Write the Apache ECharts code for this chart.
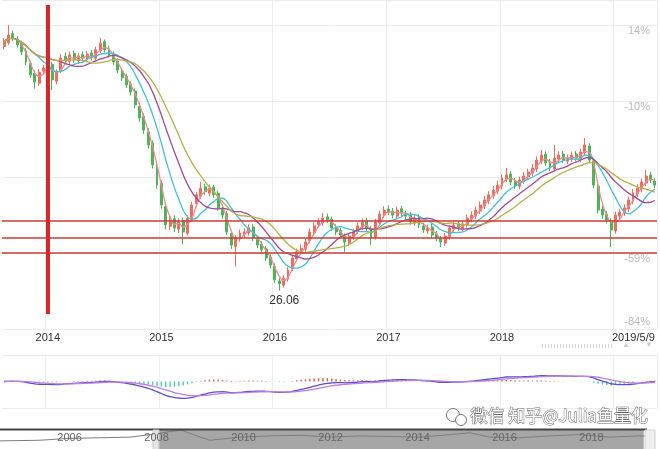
<!DOCTYPE html>
<html>
<head>
<meta charset="utf-8">
<script src="https://cdn.jsdelivr.net/npm/echarts@6/dist/echarts.min.js"></script>
<style>
  html, body { margin: 0; padding: 0; background: #fff; }
  #main { width: 660px; height: 449px; }
</style>
</head>
<body>
<div id="main"></div>
<script>
// 双周K线 (2013/8/22 - 2019/5/9)
const opens = [
  98.5, 99.6, 102.3, 100.6, 99.4, 97.2, 93.5, 90.6, 87.6, 91.2,
  91.8, 93.2, 88.2, 91.3, 95.6, 94.1, 96.4, 94.2, 96.1, 94.8,
  96.6, 95.0, 97.2, 99.9, 97.8, 96.3, 94.2, 91.1, 89.6, 87.4,
  85.3, 80.8, 77.8, 73.2, 69.8, 63.0, 57.9, 51.0, 45.2, 47.4,
  44.3, 46.9, 43.1, 47.2, 51.9, 54.1, 56.9, 55.0, 56.8, 54.9,
  50.2, 48.9, 43.1, 39.2, 41.4, 42.8, 43.2, 45.0, 41.3, 39.9,
  38.5, 36.1, 33.3, 29.0, 27.7, 29.5, 32.6, 35.5, 37.9, 38.4,
  40.9, 43.2, 45.7, 46.2, 48.0, 47.3, 44.9, 43.9, 42.2, 40.2,
  42.1, 43.8, 45.0, 46.8, 44.4, 42.0, 46.2, 48.5, 50.3, 49.7,
  48.2, 50.4, 48.8, 48.5, 46.2, 47.9, 45.3, 43.8, 45.0, 42.9,
  41.4, 40.2, 42.0, 44.4, 45.9, 44.5, 45.6, 47.3, 48.2, 49.7,
  51.2, 52.7, 54.2, 55.6, 57.1, 59.2, 60.7, 58.6, 57.1, 58.6,
  59.8, 61.0, 62.2, 64.5, 66.6, 64.3, 62.2, 65.1, 66.6, 64.5,
  65.1, 66.6, 65.1, 66.9, 69.0, 64.5, 57.1, 50.3, 48.8, 46.7,
  43.8, 48.2, 49.1, 50.3, 52.7, 54.8, 56.2, 58.0, 60.4, 58.6
];
const closes = [
  99.8, 101.9, 101.0, 99.0, 96.9, 93.9, 90.1, 88.0, 90.9, 92.1,
  93.6, 88.6, 90.9, 95.1, 94.5, 96.0, 94.5, 95.7, 95.1, 96.3,
  95.1, 97.5, 99.5, 97.5, 96.0, 93.9, 91.5, 89.2, 87.1, 85.0,
  81.2, 77.3, 73.7, 69.3, 63.4, 57.4, 51.5, 45.6, 47.0, 44.7,
  46.5, 43.5, 47.6, 51.5, 54.5, 56.5, 55.4, 56.5, 54.5, 50.6,
  48.5, 43.5, 39.6, 41.7, 43.2, 43.5, 44.7, 41.7, 39.6, 38.2,
  35.8, 33.7, 29.3, 28.1, 29.8, 32.2, 35.8, 37.6, 38.7, 40.5,
  43.5, 45.3, 46.5, 47.6, 47.0, 44.7, 43.5, 42.6, 40.5, 42.3,
  43.5, 45.3, 46.5, 44.7, 41.7, 46.5, 48.8, 50.0, 49.4, 48.5,
  50.0, 49.1, 48.2, 46.5, 47.6, 45.6, 44.1, 44.7, 42.6, 41.7,
  40.5, 42.3, 44.7, 45.6, 44.7, 45.9, 47.6, 48.5, 50.0, 51.5,
  53.0, 54.5, 55.9, 57.4, 59.5, 60.4, 58.3, 57.4, 58.9, 60.1,
  61.3, 62.5, 64.8, 66.3, 64.0, 62.5, 65.4, 66.3, 64.8, 65.4,
  66.3, 65.4, 67.2, 69.3, 64.8, 57.4, 50.0, 48.5, 47.0, 44.1,
  48.5, 49.4, 50.6, 53.0, 55.1, 56.5, 58.3, 60.1, 58.9, 57.4
];
const lows = [
  97.6, 99.0, 100.1, 98.2, 96.0, 93.0, 89.2, 86.0, 86.9, 90.3,
  90.8, 85.6, 87.3, 90.6, 93.6, 93.3, 93.7, 93.4, 94.2, 94.0,
  94.3, 94.2, 96.6, 96.7, 95.2, 93.0, 90.6, 88.3, 86.2, 84.0,
  80.2, 76.2, 72.6, 68.2, 62.3, 56.3, 50.4, 44.2, 44.0, 43.5,
  43.2, 39.8, 42.4, 46.5, 51.0, 53.3, 54.5, 54.1, 53.6, 49.7,
  47.3, 42.6, 38.5, 33.3, 40.6, 41.8, 42.4, 40.8, 38.7, 37.2,
  34.9, 32.7, 28.4, 26.06, 27.0, 28.8, 31.9, 34.7, 36.9, 37.6,
  40.1, 42.4, 44.8, 45.4, 46.1, 43.8, 42.5, 41.7, 37.6, 39.4,
  41.2, 42.9, 44.1, 43.8, 39.6, 41.2, 45.4, 47.6, 48.5, 47.6,
  47.3, 48.2, 47.2, 45.6, 45.3, 44.7, 43.2, 42.9, 41.7, 40.8,
  39.0, 39.4, 41.2, 43.5, 43.8, 43.6, 44.8, 46.4, 47.3, 48.8,
  50.3, 51.8, 53.3, 54.7, 56.2, 58.3, 57.4, 56.3, 56.2, 57.7,
  58.9, 60.1, 61.3, 63.6, 63.1, 61.5, 61.4, 64.2, 63.9, 63.6,
  64.2, 64.4, 64.2, 66.0, 63.9, 56.4, 49.0, 47.4, 46.0, 39.0,
  43.0, 47.3, 48.2, 49.4, 51.8, 53.9, 55.3, 57.1, 58.0, 56.5
];
const highs = [
  101.0, 104.9, 103.2, 101.5, 100.2, 98.0, 94.3, 91.4, 91.8, 93.0,
  94.6, 93.9, 91.7, 96.2, 96.8, 97.0, 97.3, 96.6, 97.0, 97.2,
  97.5, 98.4, 101.0, 100.6, 98.7, 97.0, 95.0, 92.0, 90.4, 88.2,
  86.1, 81.9, 78.7, 74.3, 70.6, 64.1, 58.8, 52.2, 48.3, 48.5,
  47.6, 47.8, 48.4, 52.4, 55.4, 58.3, 57.8, 57.6, 57.5, 55.6,
  51.1, 49.8, 44.0, 42.6, 44.2, 44.6, 45.8, 45.9, 42.2, 40.7,
  39.3, 36.9, 34.2, 29.9, 30.7, 33.1, 36.7, 38.6, 39.8, 41.5,
  44.5, 46.4, 47.6, 49.1, 48.9, 48.1, 45.8, 44.8, 43.1, 43.2,
  44.5, 46.3, 47.5, 47.7, 45.2, 47.4, 49.8, 51.1, 51.4, 50.6,
  51.0, 51.3, 49.8, 49.4, 48.6, 48.8, 46.2, 45.7, 45.9, 43.8,
  42.3, 43.2, 45.6, 46.6, 46.8, 46.9, 48.6, 49.6, 51.0, 52.6,
  54.1, 55.6, 57.1, 58.6, 60.6, 62.5, 61.6, 59.5, 59.9, 61.2,
  62.3, 63.6, 65.9, 67.8, 67.4, 65.2, 69.3, 67.4, 67.5, 66.5,
  67.3, 67.5, 68.2, 71.4, 69.8, 65.3, 57.9, 51.2, 49.7, 47.5,
  49.5, 50.4, 51.7, 54.0, 56.2, 57.6, 59.4, 61.9, 61.3, 59.5
];

const maPeriods = [3, 8, 13, 18];
const maColors = ['#f08a96', '#45bfd4', '#a24a92', '#b5b04c'];
const supportLevels = [46.75, 41.9, 37.35];
const markIndex = 10;          // 竖线位置
const lowIndex = 63;
const lowText = '26.06';
const yearLabels = ['2014', '2015', '2016', '2017', '2018'];
const lastLabel = '2019/5/9';
const yTickLabels = ['-84%', '-59%', '', '-10%', '14%'];

// 底部导航条
const navYears = [2004.4, 2005.32, 2005.96, 2006.7, 2007.39, 2007.85, 2008.31, 2008.58, 2008.88, 2009.23,
  2009.92, 2010.61, 2011.3, 2011.99, 2012.68, 2013.37, 2014.06, 2014.74, 2015.2, 2015.66,
  2016.35, 2017.04, 2017.73, 2018.42, 2019.11, 2019.46];
const navValues = [13, 14, 17, 18, 19, 23, 28, 30, 22, 14,
  19, 21, 22, 19, 21, 20, 19, 23, 26, 19,
  18, 21, 23, 19, 21, 20];
const navLabelYears = [2006, 2008, 2010, 2012, 2014, 2016, 2018];
const navSelect = [2007.95, 2019.2];

// 日期
const categories = [];
const t0 = Date.UTC(2013, 7, 22);
for (let i = 0; i < closes.length; i++) {
  const d = new Date(t0 + i * 14 * 86400000);
  categories.push(d.getUTCFullYear() + '/' + (d.getUTCMonth() + 1) + '/' + d.getUTCDate());
}
const yearStart = {};
for (let i = 1; i < categories.length; i++) {
  const y0 = categories[i - 1].slice(0, 4), y1 = categories[i].slice(0, 4);
  if (y0 !== y1) yearStart[i] = y1;
}
const lastIdx = categories.length - 1;

const kData = closes.map((c, i) => [opens[i], c, lows[i], highs[i]]);

function calcMA(n) {
  return closes.map((c, i) => {
    let s = 0, k = 0;
    for (let j = Math.max(0, i - n + 1); j <= i; j++) { s += closes[j]; k++; }
    return +(s / k).toFixed(2);
  });
}
function ema(arr, n) {
  const a = 2 / (n + 1);
  let prev = arr[0];
  return arr.map((v, i) => (prev = i === 0 ? v : a * v + (1 - a) * prev));
}
const e12 = ema(closes, 12), e26 = ema(closes, 26);
const dif = e12.map((v, i) => v - e26[i]);
const dea = ema(dif, 9);
const hist = dif.map((v, i) => v - dea[i]);
let macdMax = 0;
dif.concat(dea).forEach(v => { macdMax = Math.max(macdMax, Math.abs(v)); });
const macdRange = macdMax / 0.64;

// 价格轴 (按百分比刻度)
const yMin = 14.72, yStep = 22.54;
const yMax = yMin + yStep * 329 / 76;

const splitYear = (idx) => yearStart[idx] !== undefined;

let myChart = echarts.init(document.getElementById('main'));
let option = {
  animation: false,
  backgroundColor: '#fff',
  textStyle: { fontFamily: 'Liberation Sans, Arial, sans-serif' },
  grid: [
    { left: 2, width: 655, top: 0, height: 329 },
    { left: 2, width: 655, top: 355, height: 53 },
    { left: 0, width: 655, top: 429, height: 30 }
  ],
  xAxis: [
    {
      type: 'category', gridIndex: 0, data: categories, boundaryGap: true,
      axisLine: { show: false }, axisTick: { show: false },
      axisLabel: {
        color: '#333', fontSize: 11, margin: 3,
        interval: (idx) => idx === lastIdx || yearLabels.indexOf(yearStart[idx]) >= 0,
        formatter: (v, idx) => idx === lastIdx ? lastLabel : (yearStart[idx] || ''),
        alignMaxLabel: 'right'
      },
      splitLine: { show: true, interval: splitYear, lineStyle: { color: '#ececec' } }
    },
    {
      type: 'category', gridIndex: 1, data: categories, boundaryGap: true,
      axisLine: { show: false }, axisTick: { show: false }, axisLabel: { show: false },
      splitLine: { show: true, interval: splitYear, lineStyle: { color: '#ececec' } }
    },
    {
      type: 'value', gridIndex: 2, min: 2004.4, max: 2019.46, z: 10,
      axisLine: { show: false }, axisTick: { show: false }, splitLine: { show: false },
      axisLabel: {
        inside: true, customValues: navLabelYears, color: '#666', fontSize: 11, margin: 6,
        formatter: (v) => String(Math.round(v))
      }
    }
  ],
  yAxis: [
    {
      type: 'value', gridIndex: 0, position: 'right', min: yMin, max: yMax, interval: yStep,
      axisLine: { show: false }, axisTick: { show: false },
      splitLine: { lineStyle: { color: '#ececec' } },
      axisLabel: {
        inside: true, color: '#bbb', fontSize: 11, margin: 7, verticalAlign: 'top',
        showMinLabel: false,
        formatter: (v) => {
          const k = (v - yMin) / yStep;
          return Math.abs(k - Math.round(k)) < 0.05 ? (yTickLabels[Math.round(k)] || '') : '';
        }
      }
    },
    {
      type: 'value', gridIndex: 1, min: -macdRange, max: macdRange, interval: macdRange * 2,
      axisLine: { show: false }, axisTick: { show: false }, axisLabel: { show: false },
      splitLine: { lineStyle: { color: '#ececec' } }
    },
    {
      type: 'value', gridIndex: 2, min: 0, max: 32,
      axisLine: { show: false }, axisTick: { show: false }, axisLabel: { show: false },
      splitLine: { show: false }
    }
  ],
  series: [
    {
      name: 'K', type: 'candlestick', xAxisIndex: 0, yAxisIndex: 0, data: kData,
      barWidth: '55%',
      itemStyle: { color: '#ea6f5f', color0: '#4fb35a', borderColor: '#ea6f5f', borderColor0: '#4fb35a', borderWidth: 1 },
      markPoint: {
        symbol: 'circle', symbolSize: 1, itemStyle: { color: 'rgba(0,0,0,0)' },
        label: { show: true, position: 'bottom', distance: 3, offset: [5, 0], color: '#333', fontSize: 12, formatter: lowText },
        data: [{ coord: [categories[lowIndex], lows[lowIndex]] }]
      }
    }
  ].concat(maPeriods.map((n, k) => ({
    name: 'MA' + n, type: 'line', xAxisIndex: 0, yAxisIndex: 0, data: calcMA(n),
    smooth: true, showSymbol: false, lineStyle: { width: 1.3, color: maColors[k] }
  }))).concat([
    {
      name: 'lines', type: 'line', xAxisIndex: 0, yAxisIndex: 0, data: [], z: 5,
      markLine: {
        silent: true, symbol: ['none', 'none'], label: { show: false },
        lineStyle: { color: '#cf3a33', width: 1.6, type: 'solid' },
        data: supportLevels.map(v => ({ yAxis: v })).concat([[
          { coord: [categories[markIndex], 110.8], lineStyle: { color: '#d7272c', width: 4, type: 'solid' } },
          { coord: [categories[markIndex], 19.2] }
        ]])
      }
    },
    {
      name: 'MACD', type: 'bar', xAxisIndex: 1, yAxisIndex: 1, barWidth: 1.5,
      data: hist.map(v => ({ value: +v.toFixed(3), itemStyle: { color: v >= 0 ? '#c8705a' : '#5ec9b4' } }))
    },
    {
      name: 'DIF', type: 'line', xAxisIndex: 1, yAxisIndex: 1, data: dif.map(v => +v.toFixed(3)),
      smooth: true, showSymbol: false, lineStyle: { width: 1.3, color: '#5a4fcf' }
    },
    {
      name: 'DEA', type: 'line', xAxisIndex: 1, yAxisIndex: 1, data: dea.map(v => +v.toFixed(3)),
      smooth: true, showSymbol: false, lineStyle: { width: 1.3, color: '#c27ee0' }
    },
    {
      name: 'nav', type: 'line', xAxisIndex: 2, yAxisIndex: 2,
      data: navYears.map((y, i) => [y, navValues[i]]), z: 3,
      showSymbol: false, lineStyle: { width: 1, color: '#7d7d7d' },
      markArea: {
        silent: true, itemStyle: { color: '#a6a6a6' },
        data: [[{ xAxis: navSelect[0] }, { xAxis: navSelect[1] }]]
      }
    }
  ]),
  graphic: [
    { type: 'text', right: 10, top: 316, style: { text: '-84%', fill: '#bbb', font: '11px Liberation Sans' } },
    { type: 'line', shape: { x1: 542, y1: 346, x2: 612, y2: 346 }, style: { stroke: '#d8d8d8', lineWidth: 4, lineDash: [1, 2] } },
    { type: 'text', left: 622, top: 341, style: { text: '▲', fill: '#ccc', font: '8px sans-serif' } },
    { type: 'text', left: 645, top: 341, style: { text: '▼', fill: '#ccc', font: '8px sans-serif' } },
    { type: 'line', z: 10, shape: { x1: 0, y1: 429.5, x2: 647, y2: 429.5 }, style: { stroke: '#444', lineWidth: 2 } },
    { type: 'rect', z: 10, shape: { x: 153, y: 430, width: 6, height: 20 }, style: { fill: '#e4e4e4', stroke: '#c8c8c8' } },
    { type: 'rect', z: 10, shape: { x: 645, y: 430, width: 10, height: 20 }, style: { fill: '#efefef', stroke: '#d0d0d0' } },
    { type: 'circle', z: 20, shape: { cx: 453, cy: 415, r: 6.5 }, style: { fill: '#fff', stroke: '#777', lineWidth: 1 } },
    { type: 'circle', z: 20, shape: { cx: 461, cy: 420, r: 5.5 }, style: { fill: '#fff', stroke: '#777', lineWidth: 1 } },
    {
      type: 'text', z: 20, left: 470, top: 407,
      style: { text: '微信 知乎@Julia鱼量化', fill: '#fff', stroke: '#6a6a6a', lineWidth: 1, font: '17px "Noto Sans CJK SC"' }
    }
  ]
};
myChart.setOption(option);
window.addEventListener('resize', () => myChart.resize(), false);
</script>
</body>
</html>
